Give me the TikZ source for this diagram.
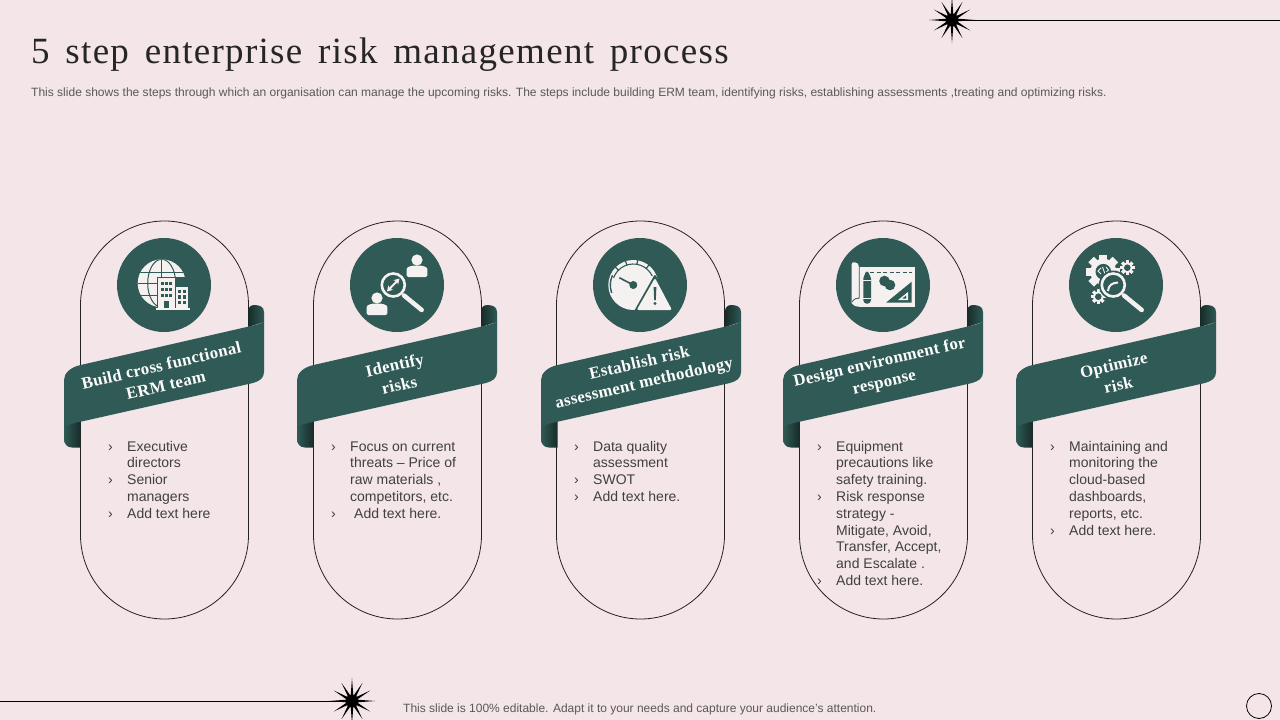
\documentclass[tikz,border=0pt]{standalone}
\usepackage{fontspec}
\usetikzlibrary{arrows.meta}
\setmainfont{Liberation Sans}
\newfontfamily\ttlfont[LetterSpace=3.5,WordSpace=1.5]{Liberation Serif}
\newfontfamily\ribfont[LetterSpace=2]{Liberation Serif}
\definecolor{bgpink}{HTML}{F3E5E8}
\definecolor{teal}{HTML}{2F5A55}
\definecolor{tealdk}{HTML}{172B29}
\definecolor{txtgray}{HTML}{404040}
\definecolor{subgray}{HTML}{595959}
\definecolor{icw}{HTML}{F5F1F1}
\tikzset{
 x=1pt,y=-1pt,
 cardshape/.style={draw=black!85!bgpink,line width=0.8pt,fill=none},
 badge/.style={circle,fill=teal,minimum size=94pt,inner sep=0pt,draw=none},
 bodytxt/.style={anchor=base west,inner sep=0pt,text=txtgray,font=\fontsize{14}{16.7}\selectfont},
 chev/.style={anchor=base west,inner sep=0pt,text=txtgray,font=\fontsize{14}{16.7}\selectfont},
 ribtxt/.style={rotate=13,align=center,inner sep=0pt,text=white!92!bgpink,font=\fontsize{16.8}{20.3}\ribfont\bfseries},
 ribbon/.pic={
  \shade[left color=tealdk,right color=teal] (184,327) -- (184,311) .. controls (184,307.5) and (187,305) .. (190,305) .. controls (196,305) and (200,307) .. (200,312) -- (200,322) -- cycle;
  \shade[left color=teal,right color=tealdk] (0,426) -- (0,439) .. controls (0,444) and (3,447.5) .. (8,447.5) -- (16.7,447.5) -- (16.7,420) -- cycle;
  \fill[teal] (0,380) .. controls (0,373) and (7,367) .. (16.7,365) -- (184,326.7) .. controls (192,325) and (197,323.5) .. (200,321.7) -- (200,372) .. controls (200,378) and (196,381) .. (189,383) -- (16.7,421.7) .. controls (8,423.5) and (3,425) .. (0,427) -- cycle;
 },
 burst/.pic={
  \fill[black] (0,0) circle (6.5);
  \foreach \a in {0,90,180,270}{\fill[black] (\a-14:5.5) -- (\a:23) -- (\a+14:5.5) -- cycle;}
  \foreach \a in {30,60,120,150,210,240,300,330}{\fill[black] (\a-14:5.5) -- (\a:21) -- (\a+14:5.5) -- cycle;}
 },
 person/.pic={
  \fill[icw] (0,-5.5) circle (5.6);
  \fill[icw,rounded corners=1.5pt] (-10.3,11.5) -- (-10.3,5) .. controls (-10.3,1.5) and (-6,0.5) .. (-3,0) -- (3,0) .. controls (6,0.5) and (10.3,1.5) .. (10.3,5) -- (10.3,11.5) -- cycle;
 },
 gear/.pic={
  \foreach \a in {0,45,...,315}{\fill[icw,rotate=\a] (-0.3*\gearr,-1.32*\gearr) rectangle (0.3*\gearr,0);}
  \fill[icw] (0,0) circle (\gearr);
  \fill[teal] (0,0) circle (0.6*\gearr);
 },
}
\newcommand\gearr{6}
\begin{document}
\begin{tikzpicture}
\useasboundingbox (0,0) rectangle (1280,720);
\fill[bgpink] (0,0) rectangle (1280,720);

% decorations
\coordinate (topstar) at (952,20);
\coordinate (topend) at (1280,20);
\coordinate (botstar) at (352,701);
\coordinate (botend) at (0,701);
\draw[black,line width=1pt] (topstar) -- (topend);
\draw[black,line width=1pt] (botstar) -- (botend);
\pic at (topstar) {burst};
\pic at (botstar) {burst};
\node[circle,draw=black,line width=0.8pt,minimum size=25pt,inner sep=0pt] (pagecirc) at (1259,706) {};

% title
\node[anchor=base west,inner sep=0pt,text=black!85,font=\fontsize{37}{40}\ttlfont] (title) at (31,63) {5 step enterprise risk management process};
\node[anchor=base west,inner sep=0pt,text=subgray,font=\fontsize{12.02}{14}\selectfont] (sub) at (31,96.5) {This slide shows the steps through which an organisation can manage the upcoming risks. The steps include building ERM team, identifying risks, establishing assessments ,treating and optimizing risks.};
\node[anchor=base west,inner sep=0pt,text=subgray,font=\fontsize{12}{14}\selectfont] (foot) at (403,712.5) {This slide is 100\% editable. Adapt it to your needs and capture your audience's attention.};

% cards
\foreach \cx in {164.5,397.5,640.5,883.5,1116.5}{
  \draw[cardshape] (\cx-84,305) arc[start angle=180,end angle=360,radius=84] -- (\cx+84,535) arc[start angle=0,end angle=180,radius=84] -- cycle;
}
% ribbons
\pic at (64,0) {ribbon};
\pic at (297,0) {ribbon};
\pic at (541,0) {ribbon};
\pic at (783,0) {ribbon};
\pic at (1016,0) {ribbon};

% badges
\node[badge] (b1) at (164,285) {};
\node[badge] (b2) at (397,285) {};
\node[badge] (b3) at (640,285) {};
\node[badge] (b4) at (883,285) {};
\node[badge] (b5) at (1116,285) {};

% icon 1: globe and buildings
\begin{scope}[shift={(164,285)}]
 \fill[icw] (-2.3,-1.7) circle (24);
 \begin{scope}
  \clip (-2.3,-1.7) circle (24);
  \draw[teal,line width=1pt] (-2.3,-25.7) -- (-2.3,22.3);
  \draw[teal,line width=1pt] (-2.3,-1.7) ellipse (14 and 24);
  \draw[teal,line width=1pt] (-26.3,-1.7) -- (21.7,-1.7);
  \draw[teal,line width=1pt] (-24,-13) -- (20,-13);
  \draw[teal,line width=1pt] (-24,10) -- (20,10);
 \end{scope}
 \fill[teal] (-7.5,-8.5) rectangle (26,25);
 \fill[icw] (-5.7,-6.7) rectangle (11,23.5);
 \fill[icw] (12,1.7) rectangle (24.3,23.5);
 \fill[icw] (-8,23.3) rectangle (26,25.2);
 \foreach \yy in {-3.5,2.5,8.5}{\foreach \xx in {-3.2,1,5.2}{\fill[teal] (\xx,\yy) rectangle ++(3,3.8);}}
 \fill[teal] (0,16) rectangle (4.5,23.3);
 \foreach \yy in {4.5,10,15.5}{\foreach \xx in {14,19}{\fill[teal] (\xx,\yy) rectangle ++(3.2,3.5);}}
\end{scope}

% icon 2: magnifier and persons
\begin{scope}[shift={(397,285)}]
 \pic at (20,-19.5) {person};
 \pic at (-20,18.5) {person};
 \draw[icw,line width=2.6pt] (-3.7,0) circle (11.5);
 \draw[icw,line width=4.5pt,line cap=round] (7,10.5) -- (24.7,25);
 \draw[icw,line width=2pt,<->,>={Stealth[length=5.5pt,width=6.5pt]}] (-10,6.5) -- (2.5,-6.5);
\end{scope}

% icon 3: gauge and warning
\begin{scope}[shift={(640,285)}]
 \fill[icw] (-6.7,0) circle (25);
 \draw[teal,line width=1.1pt] (-6.7,0) ++(-160:21) arc[start angle=-160,end angle=-25,radius=21];
 \foreach \a in {-135,-108,-80,-52}{\draw[teal,line width=1.2pt] (-6.7,0) ++(\a:20.5) -- ++(\a:5);}
 \draw[teal,line width=1.4pt] (-6.7,0) ++(160:23) arc[start angle=160,end angle=205,radius=23];
 \draw[teal,line width=1.6pt] (-20.7,-7.3) -- (-6.7,0);
 \fill[teal] (-6.7,0) circle (4);
 \fill[teal,rounded corners=2pt] (15,-11) -- (36,28) -- (-7,28) -- cycle;
 \fill[icw,rounded corners=2pt] (15,-7) -- (32,25) -- (-3.3,25) -- cycle;
 \fill[teal] (13.6,2) -- (16.4,2) -- (15.8,15) -- (14.2,15) -- cycle;
 \fill[teal] (15,18.5) circle (1.7);
\end{scope}

% icon 4: blueprint
\begin{scope}[shift={(883,285)}]
 \fill[icw] (-24,-17.7) rectangle (32,21.7);
 \fill[icw,rounded corners=2pt] (-31.3,-22.7) -- (-26,-22.7) -- (-24,-20) -- (-24,14) -- (-31.3,20) -- cycle;
 \fill[icw] (-31.3,16) .. controls (-31.3,20) and (-28,21.7) .. (-24,21.7) -- (-24,14) -- cycle;
 \draw[teal,line width=0.8pt] (-31,17) .. controls (-29,13.5) and (-26,13) .. (-23.7,13) -- (-23.7,-20);
 \fill[teal,rounded corners=1pt] (-19.7,-7) -- (-17,-13.5) -- (-15,-13.5) -- (-12,-7) -- (-12,16) -- (-14,18.5) -- (-18,18.5) -- (-19.7,16) -- cycle;
 \fill[icw] (-19.7,-5.5) rectangle (-12,-4.7);
 \fill[icw] (-19.7,13) rectangle (-12,13.8);
 \draw[teal,line width=1.2pt,dash pattern=on 4pt off 2.5pt] (-13,-12.7) -- (29,-12.7);
 \fill[teal] (1.5,-4) circle (5.3);
 \fill[teal] (7,0) circle (5.3);
 \fill[teal] (28.7,-3.3) -- (28.7,17.7) -- (3,17.7) -- cycle;
 \fill[icw] (25,7) -- (25,15) -- (15,15) -- cycle;
 \fill[teal] (23,10.5) -- (23,13.5) -- (19.5,13.5) -- cycle;
\end{scope}

% icon 5: gears and magnifier
\begin{scope}[shift={(1116,285)}]
 \renewcommand\gearr{13}
 \pic at (-12.7,-13.3) {gear};
 \renewcommand\gearr{5.5}
 \pic at (11.3,-17.3) {gear};
 \pic at (-17.7,11.7) {gear};
 \draw[icw,line width=0.9pt] (-15,-17) -- (-18,-14) -- (-15,-11);
 \draw[icw,line width=0.9pt] (-10,-18) -- (-7.5,-15) -- (-9.5,-13);
 \draw[icw,line width=0.9pt] (-11,-11) -- (-13.5,-18);
 \fill[teal] (-2.7,0) circle (14.5);
 \draw[icw,line width=2.6pt] (-2.7,0) circle (11.5);
 \draw[icw,line width=4.5pt,line cap=round] (8,10.5) -- (25.7,25);
 \draw[icw,line width=2pt] (-8,6) .. controls (-7.5,0) and (-4,-2) .. (2,-2.5);
\end{scope}

% ribbon labels
\node[ribtxt] (r1) at (163.5,375) {Build cross functional\\ERM team};
\node[ribtxt] (r2) at (397,375) {Identify\\risks};
\node[ribtxt] (r3) at (642,374) {Establish risk\\assessment methodology};
\node[ribtxt] (r4) at (882,373) {Design environment for\\response};
\node[ribtxt] (r5) at (1116,375) {Optimize\\risk};

% card 1
\node[chev] (c1a) at (108,451) {›};
\node[bodytxt] (t1a) at (127,451) {Executive};
\node[bodytxt] (t1b) at (127,467) {directors};
\node[chev] (c1b) at (108,484) {›};
\node[bodytxt] (t1c) at (127,484) {Senior};
\node[bodytxt] (t1d) at (127,501) {managers};
\node[chev] (c1c) at (108,518) {›};
\node[bodytxt] (t1e) at (127,518) {Add text here};
% card 2
\node[chev] (c2a) at (331,451) {›};
\node[bodytxt] (t2a) at (350,451) {Focus on current};
\node[bodytxt] (t2b) at (350,467) {threats – Price of};
\node[bodytxt] (t2c) at (350,484) {raw materials ,};
\node[bodytxt] (t2d) at (350,501) {competitors, etc.};
\node[chev] (c2b) at (331,518) {›};
\node[bodytxt] (t2e) at (354,518) {Add text here.};
% card 3
\node[chev] (c3a) at (574,451) {›};
\node[bodytxt] (t3a) at (593,451) {Data quality};
\node[bodytxt] (t3b) at (593,467) {assessment};
\node[chev] (c3b) at (574,484) {›};
\node[bodytxt] (t3c) at (593,484) {SWOT};
\node[chev] (c3c) at (574,501) {›};
\node[bodytxt] (t3d) at (593,501) {Add text here.};
% card 4
\node[chev] (c4a) at (817,451) {›};
\node[bodytxt] (t4a) at (836,451) {Equipment};
\node[bodytxt] (t4b) at (836,467) {precautions  like};
\node[bodytxt] (t4c) at (836,484) {safety training.};
\node[chev] (c4b) at (817,501) {›};
\node[bodytxt] (t4d) at (836,501) {Risk response};
\node[bodytxt] (t4e) at (836,518) {strategy -};
\node[bodytxt] (t4f) at (836,535) {Mitigate, Avoid,};
\node[bodytxt] (t4g) at (836,551) {Transfer, Accept,};
\node[bodytxt] (t4h) at (836,568) {and Escalate .};
\node[chev] (c4c) at (817,585) {›};
\node[bodytxt] (t4i) at (836,585) {Add text here.};
% card 5
\node[chev] (c5a) at (1050,451) {›};
\node[bodytxt] (t5a) at (1069,451) {Maintaining and};
\node[bodytxt] (t5b) at (1069,467) {monitoring the};
\node[bodytxt] (t5c) at (1069,484) {cloud-based};
\node[bodytxt] (t5d) at (1069,501) {dashboards,};
\node[bodytxt] (t5e) at (1069,518) {reports, etc.};
\node[chev] (c5b) at (1050,535) {›};
\node[bodytxt] (t5f) at (1069,535) {Add text here.};
\end{tikzpicture}
\end{document}
